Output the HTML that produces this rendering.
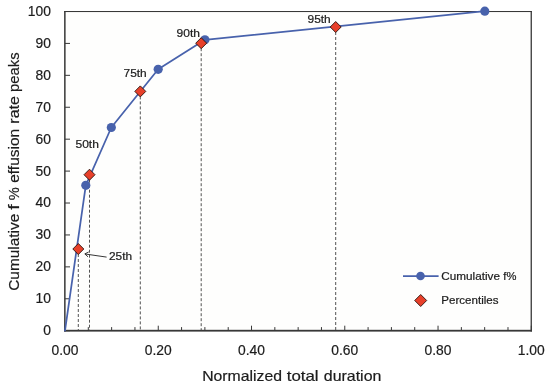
<!DOCTYPE html>
<html lang="en"><head><meta charset="utf-8"><title>Cumulative f% vs normalized total duration</title>
<style>html,body{margin:0;padding:0;background:#fff;}svg{display:block;}text{font-family:"Liberation Sans",sans-serif;fill:#1c1c1c;stroke:#1c1c1c;stroke-width:0.2px;}</style>
</head><body>
<svg width="550" height="387" viewBox="0 0 550 387">
<rect x="0" y="0" width="550" height="387" fill="#ffffff"/>
<rect x="65.00" y="11.50" width="466.30" height="319.20" fill="#fefefd"/>
<rect x="64.1" y="11" width="1.5" height="320.6" fill="#383838"/>
<rect x="64.1" y="11" width="467.8" height="1.05" fill="#383838"/>
<rect x="530.6" y="11" width="1.3" height="320.6" fill="#383838"/>
<rect x="64.1" y="329.8" width="467.8" height="1.8" fill="#383838"/>
<line x1="65.00" y1="330.70" x2="65.00" y2="325.70" stroke="#383838" stroke-width="1"/>
<line x1="88.31" y1="330.70" x2="88.31" y2="327.10" stroke="#383838" stroke-width="1"/>
<line x1="111.63" y1="330.70" x2="111.63" y2="327.10" stroke="#383838" stroke-width="1"/>
<line x1="134.94" y1="330.70" x2="134.94" y2="327.10" stroke="#383838" stroke-width="1"/>
<line x1="158.26" y1="330.70" x2="158.26" y2="325.70" stroke="#383838" stroke-width="1"/>
<line x1="181.57" y1="330.70" x2="181.57" y2="327.10" stroke="#383838" stroke-width="1"/>
<line x1="204.89" y1="330.70" x2="204.89" y2="327.10" stroke="#383838" stroke-width="1"/>
<line x1="228.21" y1="330.70" x2="228.21" y2="327.10" stroke="#383838" stroke-width="1"/>
<line x1="251.52" y1="330.70" x2="251.52" y2="325.70" stroke="#383838" stroke-width="1"/>
<line x1="274.83" y1="330.70" x2="274.83" y2="327.10" stroke="#383838" stroke-width="1"/>
<line x1="298.15" y1="330.70" x2="298.15" y2="327.10" stroke="#383838" stroke-width="1"/>
<line x1="321.46" y1="330.70" x2="321.46" y2="327.10" stroke="#383838" stroke-width="1"/>
<line x1="344.78" y1="330.70" x2="344.78" y2="325.70" stroke="#383838" stroke-width="1"/>
<line x1="368.09" y1="330.70" x2="368.09" y2="327.10" stroke="#383838" stroke-width="1"/>
<line x1="391.41" y1="330.70" x2="391.41" y2="327.10" stroke="#383838" stroke-width="1"/>
<line x1="414.72" y1="330.70" x2="414.72" y2="327.10" stroke="#383838" stroke-width="1"/>
<line x1="438.04" y1="330.70" x2="438.04" y2="325.70" stroke="#383838" stroke-width="1"/>
<line x1="461.36" y1="330.70" x2="461.36" y2="327.10" stroke="#383838" stroke-width="1"/>
<line x1="484.67" y1="330.70" x2="484.67" y2="327.10" stroke="#383838" stroke-width="1"/>
<line x1="507.99" y1="330.70" x2="507.99" y2="327.10" stroke="#383838" stroke-width="1"/>
<line x1="531.30" y1="330.70" x2="531.30" y2="325.70" stroke="#383838" stroke-width="1"/>
<line x1="65.00" y1="330.70" x2="70.00" y2="330.70" stroke="#383838" stroke-width="1"/>
<line x1="65.00" y1="298.78" x2="70.00" y2="298.78" stroke="#383838" stroke-width="1"/>
<line x1="65.00" y1="266.86" x2="70.00" y2="266.86" stroke="#383838" stroke-width="1"/>
<line x1="65.00" y1="234.94" x2="70.00" y2="234.94" stroke="#383838" stroke-width="1"/>
<line x1="65.00" y1="203.02" x2="70.00" y2="203.02" stroke="#383838" stroke-width="1"/>
<line x1="65.00" y1="171.10" x2="70.00" y2="171.10" stroke="#383838" stroke-width="1"/>
<line x1="65.00" y1="139.18" x2="70.00" y2="139.18" stroke="#383838" stroke-width="1"/>
<line x1="65.00" y1="107.26" x2="70.00" y2="107.26" stroke="#383838" stroke-width="1"/>
<line x1="65.00" y1="75.34" x2="70.00" y2="75.34" stroke="#383838" stroke-width="1"/>
<line x1="65.00" y1="43.42" x2="70.00" y2="43.42" stroke="#383838" stroke-width="1"/>
<line x1="65.00" y1="11.50" x2="70.00" y2="11.50" stroke="#383838" stroke-width="1"/>
<line x1="78.30" y1="249.00" x2="78.30" y2="330.70" stroke="#404040" stroke-width="0.9" stroke-dasharray="3 2"/>
<line x1="89.50" y1="174.70" x2="89.50" y2="330.70" stroke="#404040" stroke-width="0.9" stroke-dasharray="3 2"/>
<line x1="140.30" y1="91.40" x2="140.30" y2="330.70" stroke="#404040" stroke-width="0.9" stroke-dasharray="3 2"/>
<line x1="201.20" y1="43.20" x2="201.20" y2="330.70" stroke="#404040" stroke-width="0.9" stroke-dasharray="3 2"/>
<line x1="335.70" y1="27.00" x2="335.70" y2="330.70" stroke="#404040" stroke-width="0.9" stroke-dasharray="3 2"/>
<polyline fill="none" stroke="#4862AC" stroke-width="1.75" stroke-linejoin="round" stroke-linecap="round" points="65.00,330.70 85.80,185.30 111.30,127.50 158.20,69.30 204.90,39.80 484.80,11.20"/>
<circle cx="85.80" cy="185.30" r="4.6" fill="#4862AC"/>
<circle cx="111.30" cy="127.50" r="4.6" fill="#4862AC"/>
<circle cx="158.20" cy="69.30" r="4.6" fill="#4862AC"/>
<circle cx="204.90" cy="39.80" r="4.6" fill="#4862AC"/>
<circle cx="484.80" cy="11.20" r="4.6" fill="#4862AC"/>
<polygon points="78.30,243.50 83.80,249.00 78.30,254.50 72.80,249.00" fill="#E8402A" stroke="#2a120c" stroke-width="0.9"/>
<polygon points="89.50,169.20 95.00,174.70 89.50,180.20 84.00,174.70" fill="#E8402A" stroke="#2a120c" stroke-width="0.9"/>
<polygon points="140.30,85.90 145.80,91.40 140.30,96.90 134.80,91.40" fill="#E8402A" stroke="#2a120c" stroke-width="0.9"/>
<polygon points="201.20,37.70 206.70,43.20 201.20,48.70 195.70,43.20" fill="#E8402A" stroke="#2a120c" stroke-width="0.9"/>
<polygon points="335.70,21.50 341.20,27.00 335.70,32.50 330.20,27.00" fill="#E8402A" stroke="#2a120c" stroke-width="0.9"/>
<text transform="translate(50.9 335.15) scale(0.95 1)" font-size="14.6" text-anchor="end">0</text>
<text transform="translate(50.9 303.23) scale(0.95 1)" font-size="14.6" text-anchor="end">10</text>
<text transform="translate(50.9 271.31) scale(0.95 1)" font-size="14.6" text-anchor="end">20</text>
<text transform="translate(50.9 239.39) scale(0.95 1)" font-size="14.6" text-anchor="end">30</text>
<text transform="translate(50.9 207.47) scale(0.95 1)" font-size="14.6" text-anchor="end">40</text>
<text transform="translate(50.9 175.55) scale(0.95 1)" font-size="14.6" text-anchor="end">50</text>
<text transform="translate(50.9 143.63) scale(0.95 1)" font-size="14.6" text-anchor="end">60</text>
<text transform="translate(50.9 111.71) scale(0.95 1)" font-size="14.6" text-anchor="end">70</text>
<text transform="translate(50.9 79.79) scale(0.95 1)" font-size="14.6" text-anchor="end">80</text>
<text transform="translate(50.9 47.87) scale(0.95 1)" font-size="14.6" text-anchor="end">90</text>
<text transform="translate(50.9 15.95) scale(0.95 1)" font-size="14.6" text-anchor="end">100</text>
<text transform="translate(65.00 355.3) scale(0.95 1)" font-size="14.6" text-anchor="middle">0.00</text>
<text transform="translate(158.26 355.3) scale(0.95 1)" font-size="14.6" text-anchor="middle">0.20</text>
<text transform="translate(251.52 355.3) scale(0.95 1)" font-size="14.6" text-anchor="middle">0.40</text>
<text transform="translate(344.78 355.3) scale(0.95 1)" font-size="14.6" text-anchor="middle">0.60</text>
<text transform="translate(438.04 355.3) scale(0.95 1)" font-size="14.6" text-anchor="middle">0.80</text>
<text transform="translate(531.30 355.3) scale(0.95 1)" font-size="14.6" text-anchor="middle">1.00</text>
<g transform="translate(19.20 290.00) rotate(-90)">
<text x="-0.75" y="0" font-size="14.2" textLength="77.01" lengthAdjust="spacingAndGlyphs">Cumulative</text>
<text x="80.33" y="0" font-size="14.2" textLength="5.51" lengthAdjust="spacingAndGlyphs">f</text>
<text x="89.84" y="0" font-size="14.2" textLength="13.01" lengthAdjust="spacingAndGlyphs">%</text>
<text x="107.19" y="0" font-size="14.2" textLength="53.97" lengthAdjust="spacingAndGlyphs">effusion</text>
<text x="166.32" y="0" font-size="14.2" textLength="27.66" lengthAdjust="spacingAndGlyphs">rate</text>
<text x="198.14" y="0" font-size="14.2" textLength="39.52" lengthAdjust="spacingAndGlyphs">peaks</text>
</g>
<text x="202.23" y="380.60" font-size="14.2" textLength="79.74" lengthAdjust="spacingAndGlyphs">Normalized</text>
<text x="286.75" y="380.60" font-size="14.2" textLength="31.87" lengthAdjust="spacingAndGlyphs">total</text>
<text x="323.84" y="380.60" font-size="14.2" textLength="57.52" lengthAdjust="spacingAndGlyphs">duration</text>
<text x="109.00" y="259.60" font-size="10.3" textLength="23.11" lengthAdjust="spacingAndGlyphs">25th</text>
<text x="75.49" y="148.30" font-size="10.3" textLength="23.42" lengthAdjust="spacingAndGlyphs">50th</text>
<text x="123.54" y="77.20" font-size="10.3" textLength="23.23" lengthAdjust="spacingAndGlyphs">75th</text>
<text x="176.54" y="36.90" font-size="10.3" textLength="23.42" lengthAdjust="spacingAndGlyphs">90th</text>
<text x="307.54" y="23.30" font-size="10.3" textLength="23.23" lengthAdjust="spacingAndGlyphs">95th</text>
<text x="441.32" y="279.90" font-size="10.5" textLength="58.64" lengthAdjust="spacingAndGlyphs">Cumulative</text>
<text x="503.30" y="279.90" font-size="10.5" textLength="13.06" lengthAdjust="spacingAndGlyphs">f%</text>
<text x="441.34" y="304.20" font-size="10.5" textLength="57.16" lengthAdjust="spacingAndGlyphs">Percentiles</text>
<line x1="106.6" y1="257.1" x2="85.2" y2="254.0" stroke="#2c2c2c" stroke-width="0.95"/>
<polyline points="88.7,252.0 84.8,253.9 88.0,256.8" fill="none" stroke="#2c2c2c" stroke-width="0.95"/>
<line x1="403.0" y1="276.0" x2="438.6" y2="276.0" stroke="#4862AC" stroke-width="1.75"/>
<circle cx="420.5" cy="276.0" r="4.3" fill="#4862AC"/>
<polygon points="420.70,294.50 426.70,300.50 420.70,306.50 414.70,300.50" fill="#E8402A" stroke="#2a120c" stroke-width="0.9"/>
</svg>
</body></html>
